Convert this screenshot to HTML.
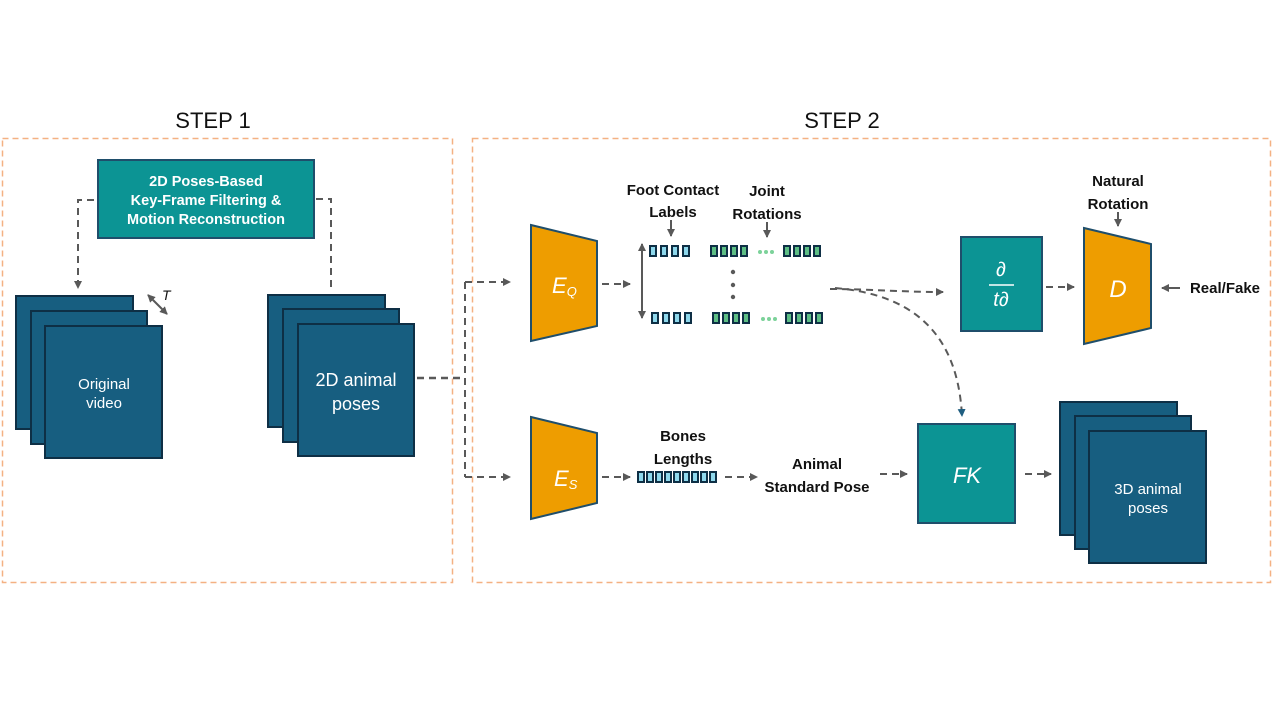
<!DOCTYPE html>
<html><head><meta charset="utf-8"><style>
body{margin:0;background:#fff}
svg{display:block}
text{font-family:"Liberation Sans",sans-serif}
.b{font-weight:bold;font-size:15px;fill:#111}
.w{fill:#fff}
</style></head><body>
<svg width="1280" height="720" viewBox="0 0 1280 720" xmlns="http://www.w3.org/2000/svg">
<defs>
<marker id="a" markerWidth="8" markerHeight="8" refX="7" refY="4" orient="auto" markerUnits="userSpaceOnUse"><path d="M0,0 L8,4 L0,8z" fill="#595959"/></marker>
<marker id="ab" markerWidth="8" markerHeight="8" refX="7" refY="4" orient="auto" markerUnits="userSpaceOnUse"><path d="M0,0 L8,4 L0,8z" fill="#1F5E80"/></marker>
<marker id="as" markerWidth="8" markerHeight="8" refX="1" refY="4" orient="auto" markerUnits="userSpaceOnUse"><path d="M8,0 L0,4 L8,8z" fill="#595959"/></marker>
</defs>
<rect x="2.5" y="138.5" width="450" height="444" fill="none" stroke="#F4B183" stroke-width="1.5" stroke-dasharray="6,4"/>
<rect x="472.5" y="138.5" width="798" height="444" fill="none" stroke="#F4B183" stroke-width="1.5" stroke-dasharray="6,4"/>
<text x="213" y="128" font-size="22" text-anchor="middle" fill="#111">STEP 1</text>
<text x="842" y="128" font-size="22" text-anchor="middle" fill="#111">STEP 2</text>

<g stroke="#595959" stroke-width="2" fill="none" stroke-dasharray="7,5">
<path d="M94,200 H78 V288" marker-end="url(#a)"/>
<path d="M316,199 H331 V292"/>
<path d="M417,378 H465" stroke-width="2.5"/>
<path d="M465,282 V477"/>
<path d="M465,282 H510" marker-end="url(#a)"/>
<path d="M465,477 H510" marker-end="url(#a)"/>
<path d="M602,284 H630" marker-end="url(#a)"/>
<path d="M830,289 C870,289 900,292 943,292" marker-end="url(#a)"/>
<path d="M1046,287 H1074" marker-end="url(#a)"/>
<path d="M602,477 H630" marker-end="url(#a)"/>
<path d="M725,477 H757" marker-end="url(#a)"/>
<path d="M880,474 H907" marker-end="url(#a)"/>
<path d="M1025,474 H1051" marker-end="url(#a)"/>
</g>
<path d="M835,288 C920,295 958,340 962,416" fill="none" stroke="#595959" stroke-width="2" stroke-dasharray="7,5" marker-end="url(#ab)"/>
<g stroke="#595959" stroke-width="2" fill="none">
<path d="M148,295 L167,314" marker-end="url(#a)" marker-start="url(#as)"/>
<path d="M642,244 V318" marker-end="url(#a)" marker-start="url(#as)"/>
<path d="M671,220 V236" marker-end="url(#a)"/>
<path d="M767,222 V237" marker-end="url(#a)"/>
<path d="M1118,212 V226" marker-end="url(#a)"/>
<path d="M1180,288 H1162" marker-end="url(#a)"/>
</g>
<text x="162" y="300" font-size="14" font-style="italic" fill="#111">T</text>

<rect x="98" y="160" width="216" height="78" fill="#0C9494" stroke="#1F4E6B" stroke-width="2"/>
<text x="206" y="186" font-size="14.5" font-weight="bold" text-anchor="middle" class="w">2D Poses-Based</text>
<text x="206" y="205" font-size="14.5" font-weight="bold" text-anchor="middle" class="w">Key-Frame Filtering &amp;</text>
<text x="206" y="224" font-size="14.5" font-weight="bold" text-anchor="middle" class="w">Motion Reconstruction</text>

<g fill="#175E80" stroke="#0E2F45" stroke-width="2">
<rect x="16" y="296" width="117" height="133"/><rect x="31" y="311" width="116" height="133"/><rect x="45" y="326" width="117" height="132"/>
<rect x="268" y="295" width="117" height="132"/><rect x="283" y="309" width="116" height="133"/><rect x="298" y="324" width="116" height="132"/>
<rect x="1060" y="402" width="117" height="133"/><rect x="1075" y="416" width="116" height="133"/><rect x="1089" y="431" width="117" height="132"/>
</g>
<text x="104" y="389" font-size="15" text-anchor="middle" class="w">Original</text>
<text x="104" y="408" font-size="15" text-anchor="middle" class="w">video</text>
<text x="356" y="386" font-size="18" text-anchor="middle" class="w">2D animal</text>
<text x="356" y="410" font-size="18" text-anchor="middle" class="w">poses</text>
<text x="1148" y="494" font-size="15" text-anchor="middle" class="w">3D animal</text>
<text x="1148" y="513" font-size="15" text-anchor="middle" class="w">poses</text>

<g fill="#EE9D00" stroke="#1F4E6B" stroke-width="2">
<path d="M531,225 L597,241 L597,326 L531,341Z"/>
<path d="M531,417 L597,433 L597,503 L531,519Z"/>
<path d="M1084,228 L1151,244 L1151,328 L1084,344Z"/>
</g>
<text x="552" y="293" font-size="22" font-style="italic" class="w">E<tspan font-size="13" dy="3">Q</tspan></text>
<text x="554" y="486" font-size="22" font-style="italic" class="w">E<tspan font-size="13" dy="3">S</tspan></text>
<text x="1118" y="297" font-size="24" font-style="italic" text-anchor="middle" class="w">D</text>

<rect x="961" y="237" width="81" height="94" fill="#0C9494" stroke="#1F4E6B" stroke-width="2"/>
<text x="1001" y="276" font-size="20" text-anchor="middle" class="w">∂</text>
<line x1="989" y1="285" x2="1014" y2="285" stroke="#fff" stroke-width="1.5"/>
<text x="1001" y="306" font-size="20" text-anchor="middle" class="w"><tspan font-style="italic">t</tspan>∂</text>
<rect x="918" y="424" width="97" height="99" fill="#0C9494" stroke="#1F4E6B" stroke-width="2"/>
<text x="967" y="483" font-size="22" font-style="italic" text-anchor="middle" class="w">FK</text>

<g stroke="#0E2F45" stroke-width="2">
<g fill="#8ED8EC">
<rect x="650" y="246" width="6" height="10"/><rect x="661" y="246" width="6" height="10"/><rect x="672" y="246" width="6" height="10"/><rect x="683" y="246" width="6" height="10"/>
<rect x="652" y="313" width="6" height="10"/><rect x="663" y="313" width="6" height="10"/><rect x="674" y="313" width="6" height="10"/><rect x="685" y="313" width="6" height="10"/>
<rect x="638" y="472" width="6" height="10"/><rect x="647" y="472" width="6" height="10"/><rect x="656" y="472" width="6" height="10"/><rect x="665" y="472" width="6" height="10"/><rect x="674" y="472" width="6" height="10"/><rect x="683" y="472" width="6" height="10"/><rect x="692" y="472" width="6" height="10"/><rect x="701" y="472" width="6" height="10"/><rect x="710" y="472" width="6" height="10"/>
</g>
<g fill="#5DBE84">
<rect x="711" y="246" width="6" height="10"/><rect x="721" y="246" width="6" height="10"/><rect x="731" y="246" width="6" height="10"/><rect x="741" y="246" width="6" height="10"/>
<rect x="784" y="246" width="6" height="10"/><rect x="794" y="246" width="6" height="10"/><rect x="804" y="246" width="6" height="10"/><rect x="814" y="246" width="6" height="10"/>
<rect x="713" y="313" width="6" height="10"/><rect x="723" y="313" width="6" height="10"/><rect x="733" y="313" width="6" height="10"/><rect x="743" y="313" width="6" height="10"/>
<rect x="786" y="313" width="6" height="10"/><rect x="796" y="313" width="6" height="10"/><rect x="806" y="313" width="6" height="10"/><rect x="816" y="313" width="6" height="10"/>
</g>
</g>
<g fill="#7CD29A">
<circle cx="760" cy="252" r="2"/><circle cx="766" cy="252" r="2"/><circle cx="772" cy="252" r="2"/>
<circle cx="763" cy="319" r="2"/><circle cx="769" cy="319" r="2"/><circle cx="775" cy="319" r="2"/>
</g>
<g fill="#595959"><circle cx="733" cy="272" r="2.2"/><circle cx="733" cy="285" r="2.2"/><circle cx="733" cy="297" r="2.2"/></g>

<text x="673" y="195" class="b" text-anchor="middle">Foot Contact</text>
<text x="673" y="217" class="b" text-anchor="middle">Labels</text>
<text x="767" y="196" class="b" text-anchor="middle">Joint</text>
<text x="767" y="219" class="b" text-anchor="middle">Rotations</text>
<text x="1118" y="186" class="b" text-anchor="middle">Natural</text>
<text x="1118" y="209" class="b" text-anchor="middle">Rotation</text>
<text x="1225" y="293" class="b" text-anchor="middle">Real/Fake</text>
<text x="683" y="441" class="b" text-anchor="middle">Bones</text>
<text x="683" y="464" class="b" text-anchor="middle">Lengths</text>
<text x="817" y="469" class="b" text-anchor="middle">Animal</text>
<text x="817" y="492" class="b" text-anchor="middle">Standard Pose</text>
</svg>
</body></html>
